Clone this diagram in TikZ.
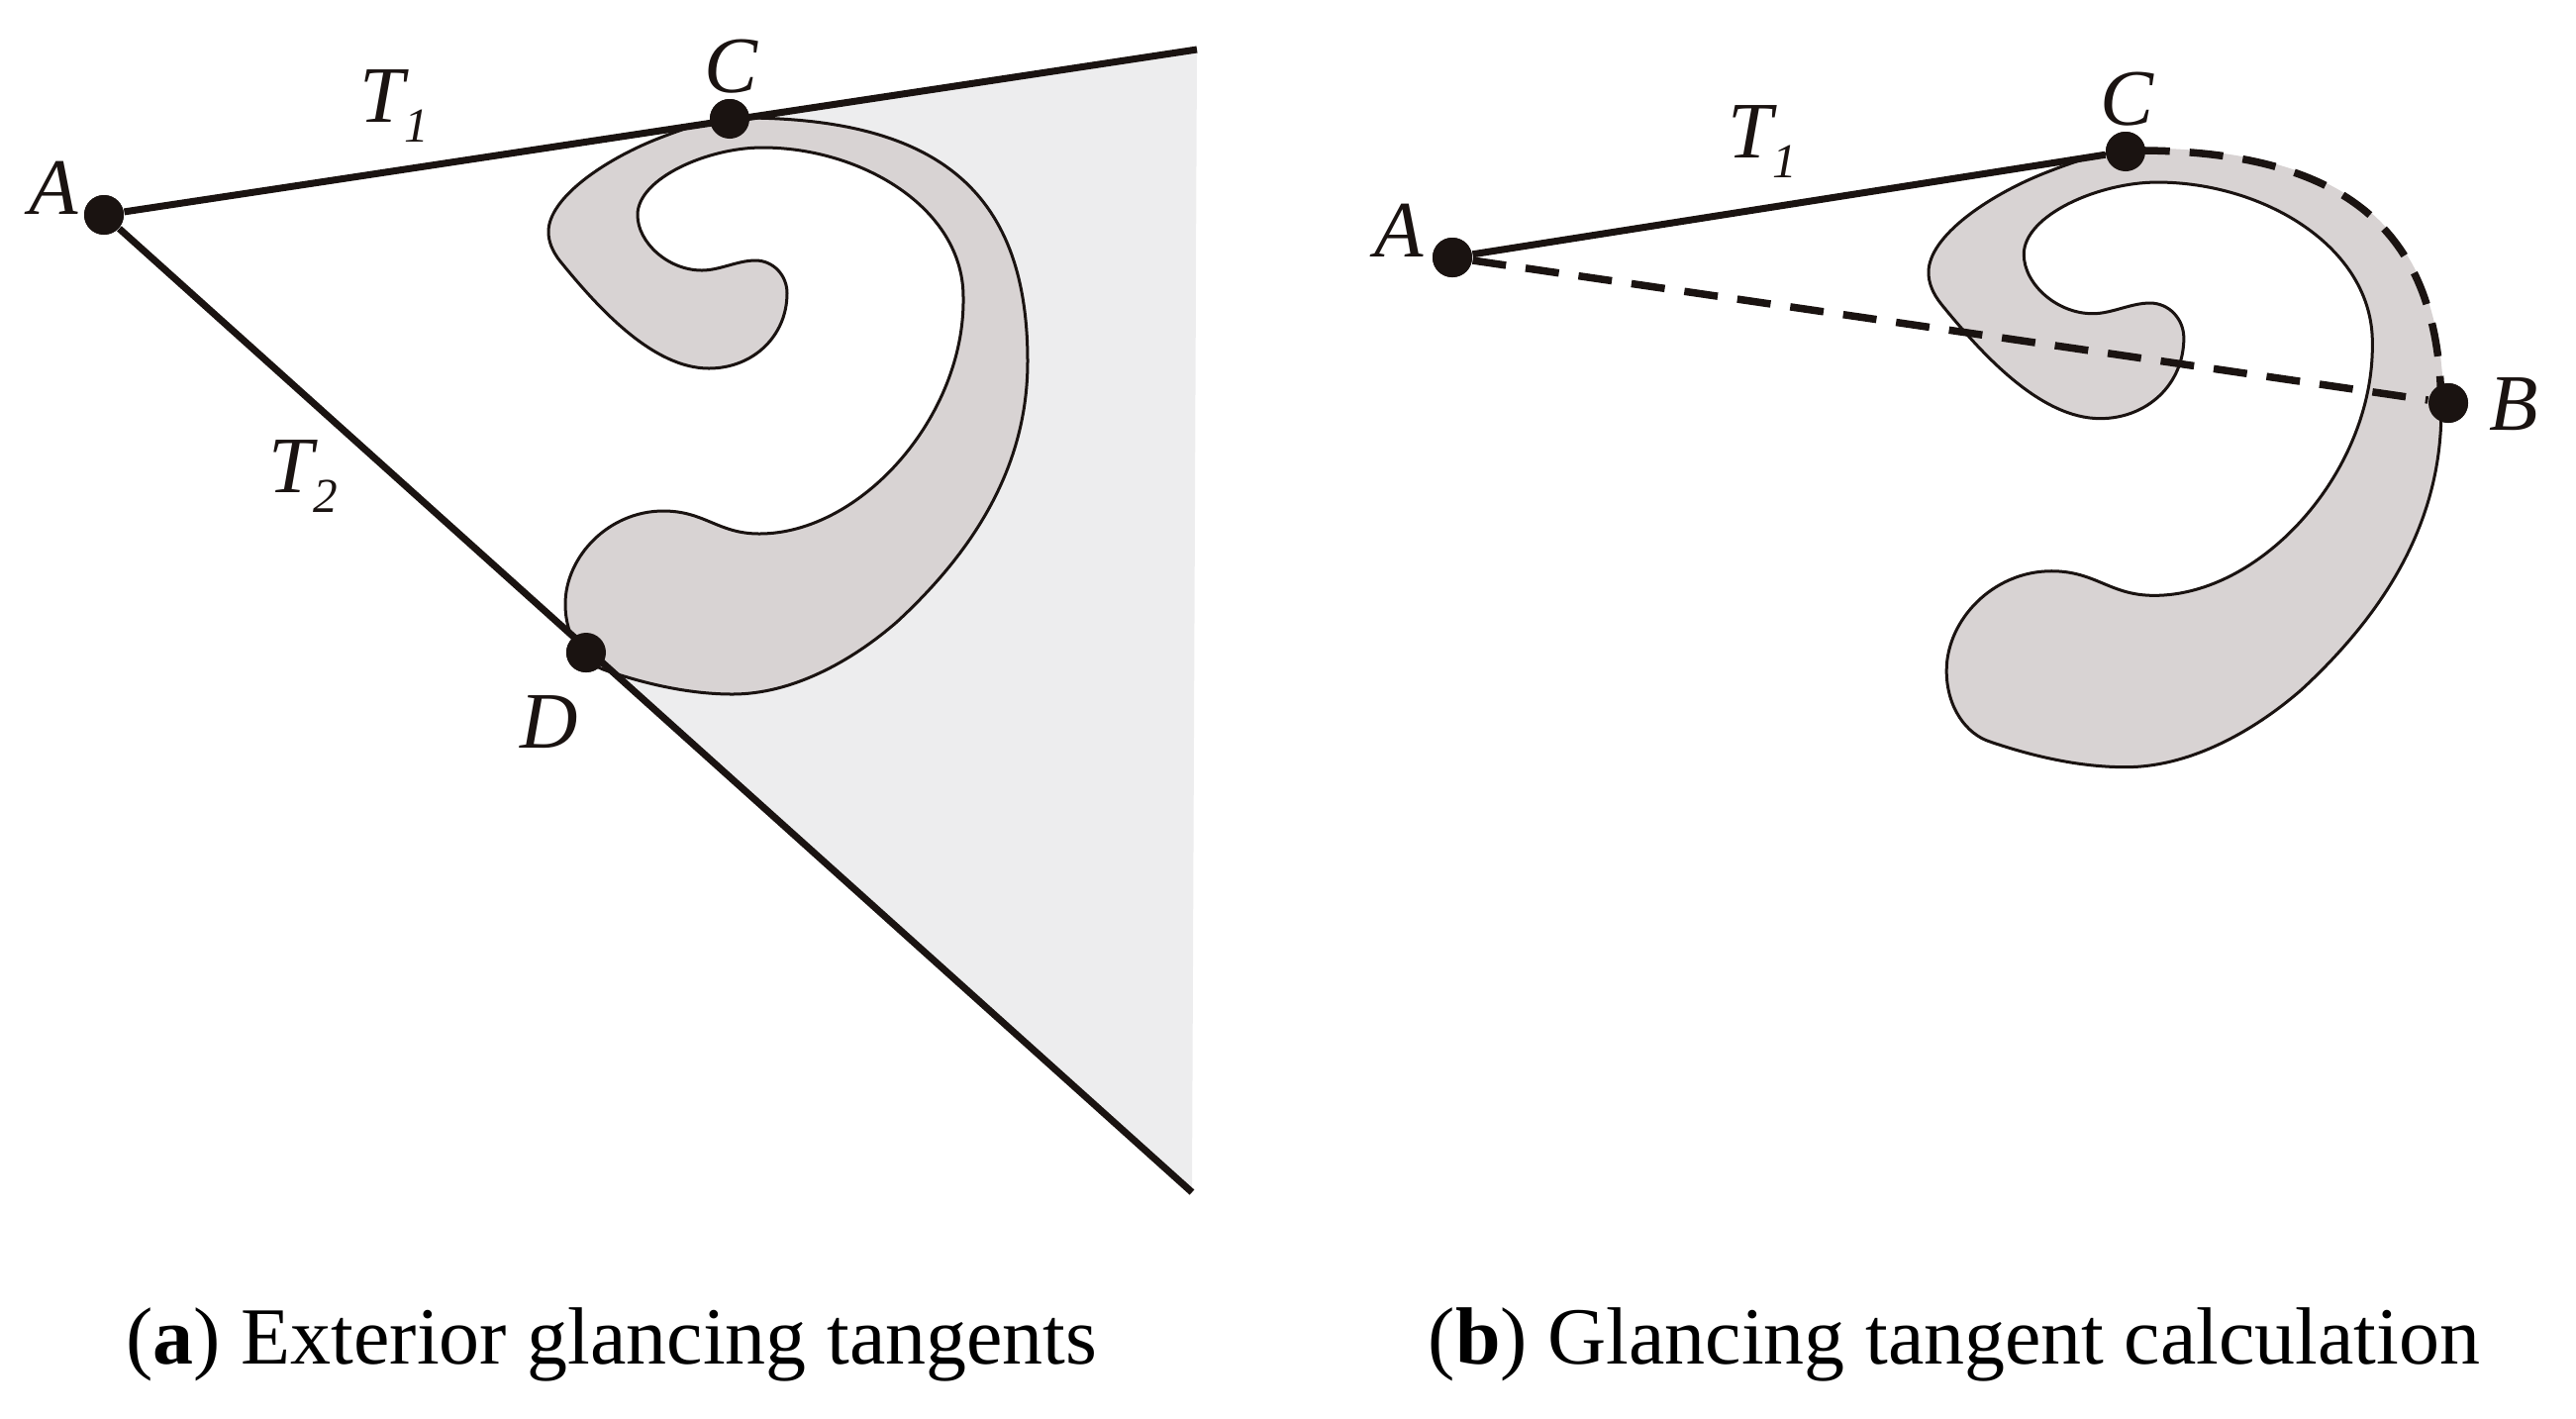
\documentclass[tikz,border=0pt]{standalone}
\usepackage{fontspec}
\setmainfont{Liberation Serif}
\usetikzlibrary{positioning}
\usetikzlibrary{calc}
\definecolor{ink}{RGB}{26,19,17}
\definecolor{body}{RGB}{216,211,211}
\definecolor{wedge}{RGB}{237,237,238}

\newcommand{\spiralshape}{(750,119) .. controls (955,119) and (1038,200) .. (1038,365) .. controls (1038,470) and (985,555) .. (906,628) .. controls (860,668) and (800,701) .. (740,701) .. controls (695,701) and (650,690) .. (612,677) .. controls (590,670) and (571,645) .. (571,610) .. controls (571,562) and (615,516) .. (670,516) .. controls (712,516) and (725,539) .. (767,539) .. controls (870,539) and (975,420) .. (973,300) .. controls (973,210) and (870,149) .. (770,149) .. controls (715,149) and (644,180) .. (644,217) .. controls (644,245) and (675,273) .. (709,273) .. controls (727,273) and (745,263) .. (763,263) .. controls (781,263) and (795,278) .. (795,296) .. controls (795,340) and (760,372) .. (716,372) .. controls (660,372) and (605,312) .. (566,264) .. controls (558,254) and (554,244) .. (554,234) .. controls (554,200) and (610,162) .. (662,141) .. controls (690,130) and (720,119) .. (750,119) -- cycle}
\newcommand{\spiralarc}{(750,119) .. controls (955,119) and (1038,200) .. (1038,365)}
\newcommand{\tname}[1]{\textit{T\raisebox{-0.25em}{\fontsize{14}{14}\selectfont #1}}}

\tikzset{
  pnt/.style={circle, fill=ink, inner sep=0pt, minimum size=0.4cm},
  lbl/.style={inner sep=0pt, text=ink, font=\fontsize{23}{26}\selectfont\itshape},
  caption/.style={inner sep=0pt, anchor=base, text=black, font=\fontsize{23.3}{28}\selectfont},
  tangent/.style={ink, line width=0.07cm},
  outline/.style={ink, line width=0.03cm, fill=body},
  dashline/.style={ink, line width=0.075cm, dash pattern=on 0.34cm off 0.2cm}
}

\begin{document}
\begin{tikzpicture}[x=0.01cm, y=-0.01cm]
    \useasboundingbox (0,0) rectangle (2602,1432);

    % draw points
    \coordinate (endT1) at (1209,50);
    \coordinate (endT2) at (1204,1204);
    \node[pnt] (A1) at (105,217) {};
    \node[pnt] (C1) at (737,120) {};
    \node[pnt] (D1) at (592,659) {};
    \node[pnt] (A2) at (1467,260) {};
    \node[pnt] (C2) at (2147,153) {};
    \node[pnt] (B2) at (2473,407) {};

    % draw left figure
    \fill[wedge] (C1.center) -- (endT1) -- (endT2) -- (D1.center) -- (740,620) -- (940,500) -- (1000,300) -- (975,200) -- (900,165) -- (800,135) -- cycle;
    \draw[outline] \spiralshape;
    \draw[tangent] (A1) -- (endT1);
    \draw[tangent] (A1) -- (endT2);
    \node[pnt] at (A1) {};
    \node[pnt] at (C1) {};
    \node[pnt] at (D1) {};

    % draw right figure
    \begin{scope}[shift={(1355.2,24.6)}, scale=1.07]
      \draw[outline] \spiralshape;
      \draw[body, line width=0.05cm] \spiralarc;
      \draw[dashline] \spiralarc;
    \end{scope}
    \draw[tangent] (A2) -- (C2);
    \draw[dashline] (A2) -- (B2);
    \node[pnt] at (A2) {};
    \node[pnt] at (C2) {};
    \node[pnt] at (B2) {};

    % draw labels
    \node[lbl] (labelA1) at (54,190) {A};
    \node[lbl] (labelC1) at (738,67) {C};
    \node[lbl] (labelD1) at (555,729) {D};
    \node[lbl] (labelT1) at (398,107) {\tname{1}};
    \node[lbl] (labelT2) at (306,481) {\tname{2}};
    \node[lbl] (labelA2) at (1413,233) {A};
    \node[lbl] (labelC2) at (2148,100) {C};
    \node[lbl] (labelB2) at (2539,408) {B};
    \node[lbl] (labelT3) at (1780,143) {\tname{1}};

    % captions
    \node[caption] (capA) at (618,1377) {(\textbf{a}) Exterior glancing tangents};
    \node[caption] (capB) at (1974,1377) {(\textbf{b}) Glancing tangent calculation};
\end{tikzpicture}
\end{document}
